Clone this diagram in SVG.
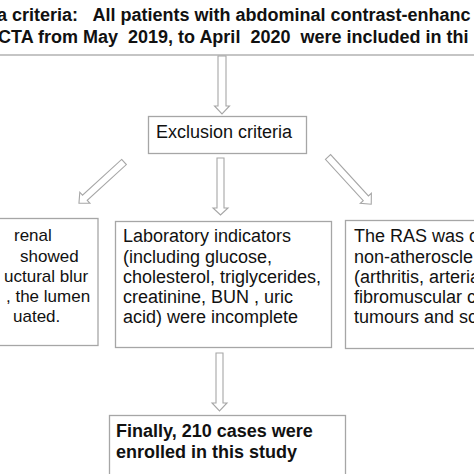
<svg xmlns="http://www.w3.org/2000/svg" width="474" height="474" viewBox="0 0 474 474">
<style>
.box{fill:#fff;stroke:#a6a6a6;stroke-width:1.3}
.arr{fill:#fff;stroke:#a6a6a6;stroke-width:1.1}
text{font-family:"Liberation Sans",Arial,sans-serif;font-size:18px;fill:#111;white-space:pre}
.b{font-weight:bold}
.s{font-size:17px}
</style>
<rect width="474" height="474" fill="#fff"/>
<g id="inclusion">
<rect class="box" x="-10" y="-10" width="494" height="65"/>
<text class="b" x="-3" y="21" xml:space="preserve">a criteria:   All patients with abdominal contrast-enhanc</text>
<text class="b" x="-2" y="43" xml:space="preserve">CTA from May  2019, to April  2020  were included in thi</text>
</g>
<g id="exclusion">
<rect class="box" x="148.5" y="116.5" width="158" height="37"/>
<text x="156" y="138">Exclusion criteria</text>
</g>
<g id="left">
<rect class="box" x="-10" y="218.5" width="108" height="127"/>
<text class="s" x="14" y="241">renal</text>
<text class="s" x="20" y="261.5">showed</text>
<text class="s" x="4" y="282">uctural blur</text>
<text class="s" x="6" y="302">, the lumen</text>
<text class="s" x="13" y="322">uated.</text>
</g>
<g id="lab">
<rect class="box" x="115.5" y="221.5" width="216" height="126"/>
<text x="123" y="242">Laboratory indicators</text>
<text x="123" y="262.5">(including glucose,</text>
<text x="123" y="283">cholesterol, triglycerides,</text>
<text x="123" y="303">creatinine, BUN , uric</text>
<text x="123" y="323">acid) were incomplete</text>
</g>
<g id="ras">
<rect class="box" x="345.5" y="220.5" width="140" height="128"/>
<text x="354" y="242">The RAS was c</text>
<text x="354" y="262.5">non-atheroscle</text>
<text x="354" y="283">(arthritis, arteria</text>
<text x="354" y="303">fibromuscular c</text>
<text x="354" y="323">tumours and sc</text>
</g>
<g id="final">
<rect class="box" x="109.5" y="415.5" width="236" height="70"/>
<text class="b" x="116" y="437">Finally, 210 cases were</text>
<text class="b" x="116" y="458">enrolled in this study</text>
</g>
<g id="connectors">
<path class="arr" transform="translate(222,56)" d="M-4,0H4V50H7.5L0,58L-7.5,50H-4Z"/>
<path class="arr" transform="translate(220.5,158)" d="M-3.5,0H3.5V50H7.5L0,57L-7.5,50H-3.5Z"/>
<path class="arr" transform="translate(219.5,353)" d="M-3.5,0H3.5V50H7.5L0,58L-7.5,50H-3.5Z"/>
<path class="arr" transform="translate(124,162) rotate(47.6)" d="M-3.5,0H3.5V53H7.5L0,61L-7.5,53H-3.5Z"/>
<path class="arr" transform="translate(328,157) rotate(-42.5)" d="M-3.5,0H3.5V56H7.5L0,64L-7.5,56H-3.5Z"/>
</g>
</svg>
